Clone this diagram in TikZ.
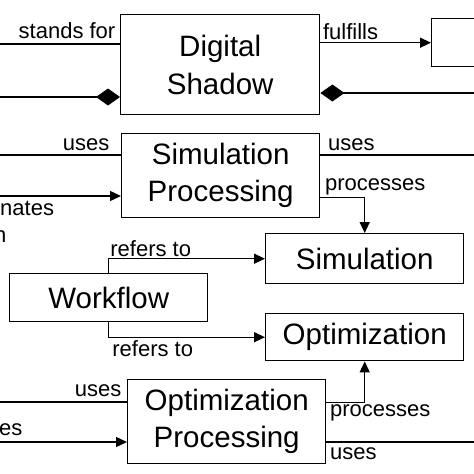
\documentclass[tikz,border=0pt]{standalone}
\usepackage{fontspec}
\setmainfont{Liberation Sans}
\usetikzlibrary{arrows.meta,positioning}

\begin{document}
\begin{tikzpicture}[
  x=1pt, y=-1pt,
  block/.style={draw, line width=1.4pt, anchor=north west, align=center, inner sep=0pt,
    minimum width=198pt, font=\fontsize{29.5}{37}\selectfont},
  lbl/.style={inner sep=0pt, font=\fontsize{22}{27}\selectfont},
  link/.style={line width=1.4pt},
  arrow/.style={link, -{Triangle[length=11pt,width=10pt]}},
  part/.style={link, {Diamond[length=24pt,width=17pt]}-}
]
\useasboundingbox (0,0) rectangle (474,474);
\clip (0,0) rectangle (474,474);

% boxes
\node[block, minimum width=199pt, minimum height=100pt, font=\fontsize{29.5}{38}\selectfont] (shadow) at (120,14) {Digital\\Shadow};
\node[block, minimum width=80pt, minimum height=48pt] (goal) at (431,18) {};
\node[block, minimum height=84pt] (simproc) at (121,133) {Simulation\\Processing};
\node[block, minimum height=50pt] (sim) at (265,233) {Simulation};
\node[block, minimum height=47pt] (opt) at (265,313) {Optimization};
\node[block, minimum height=48pt] (wf) at (9,273) {Workflow};
\node[block, minimum height=84pt] (optproc) at (127,379) {Optimization\\Processing};

% loose ends at the border
\coordinate (sfL) at (-5,44);
\coordinate (pdL) at (-5,97);
\coordinate (pdR) at (480,93);
\coordinate (usL1) at (-5,155);
\coordinate (usR1) at (480,155);
\coordinate (coL) at (-5,196);
\coordinate (usL2) at (-5,402);
\coordinate (esL) at (-5,442);
\coordinate (usR2) at (480,442);

% digital shadow
\draw[link] (sfL) -- (sfL -| shadow.west)
  node[pos=1, lbl, anchor=base east, xshift=-4pt, yshift=6pt] {stands for};
\draw[arrow] (goal.west -| shadow.east) -- (goal.west)
  node[pos=0, lbl, anchor=base west, xshift=2pt, yshift=3pt] {fulfills};
\draw[part] (pdL -| shadow.west) -- (pdL);
\draw[part] (pdR -| shadow.east) -- (pdR);

% simulation processing
\draw[link] (usL1) -- (usL1 -| simproc.west)
  node[pos=1, lbl, anchor=base east, xshift=-11pt, yshift=5pt] {uses};
\draw[link] (usR1 -| simproc.east) -- (usR1)
  node[pos=0, lbl, anchor=base west, xshift=7pt, yshift=5pt] {uses};
\draw[arrow] (coL) -- (coL -| simproc.west);
\node[lbl, anchor=base west] (coA) at (0,215) {nates};
\node[lbl, anchor=base west] (coB) at (-6,242) {n};
\draw[arrow] ([yshift=-22pt]simproc.east) -| (sim.north)
  node[pos=0, lbl, anchor=base west, xshift=4pt, yshift=7pt] {processes};

% workflow
\draw[arrow] (wf.north) |- (sim.west)
  node[pos=0.5, lbl, anchor=base west, xshift=1pt, yshift=2pt] {refers to};
\draw[arrow] (wf.south) |- (opt.west)
  node[pos=0.5, lbl, anchor=base west, xshift=3pt, yshift=-19pt] {refers to};

% optimization processing
\draw[link] (usL2) -- (usL2 -| optproc.west)
  node[pos=1, lbl, anchor=base east, xshift=-5pt, yshift=6pt] {uses};
\draw[arrow] (esL) -- (esL -| optproc.west)
  node[pos=0, lbl, anchor=base east, xshift=28pt, yshift=7pt] {es};
\draw[arrow] ([yshift=19pt]optproc.east) -| (opt.south)
  node[pos=0, lbl, anchor=base west, xshift=3pt, yshift=-14pt] {processes};
\draw[link] (usR2 -| optproc.east) -- (usR2)
  node[pos=0, lbl, anchor=base west, xshift=3pt, yshift=-17pt] {uses};
\end{tikzpicture}
\end{document}
